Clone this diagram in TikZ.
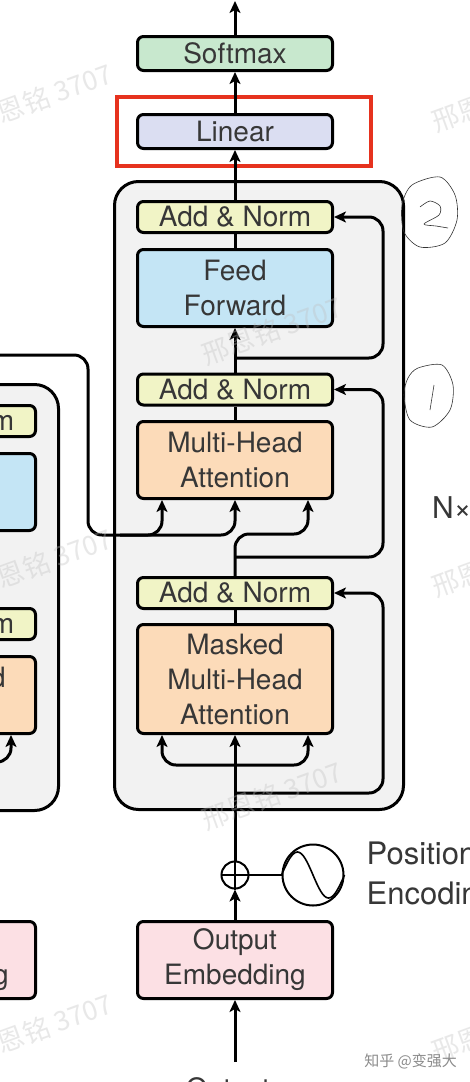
\documentclass[tikz,border=0pt]{standalone}
\usepackage{fontspec}
\setmainfont{TeX Gyre Heros}
\newfontfamily\cjkfont{Noto Sans CJK SC}
\usepackage{xcolor}
\usepackage{tikz}
\usetikzlibrary{positioning, arrows.meta, calc}
\definecolor{softmaxfill}{RGB}{200,232,206}
\definecolor{linearfill}{RGB}{219,222,242}
\definecolor{normfill}{RGB}{241,244,198}
\definecolor{ffnfill}{RGB}{196,229,245}
\definecolor{attnfill}{RGB}{252,219,185}
\definecolor{embedfill}{RGB}{252,224,228}
\definecolor{blockfill}{RGB}{242,242,242}
\definecolor{markred}{RGB}{230,50,30}
\definecolor{labeltext}{RGB}{55,55,55}

\begin{document}
\begin{tikzpicture}[x=1pt, y=-1pt,
        basic/.style={draw=black, line width=3pt, rounded corners=6pt, minimum width=195pt, inner sep=0pt, align=center, text=labeltext, font=\fontsize{28}{35}\selectfont},
        normbox/.style={basic, fill=normfill, minimum height=31pt},
        ffnbox/.style={basic, fill=ffnfill, minimum height=77pt},
        attnbox/.style={basic, fill=attnfill, minimum height=77pt},
        embedbox/.style={basic, fill=embedfill, minimum height=77pt},
        blockbox/.style={draw=black, line width=3pt, rounded corners=24pt, fill=blockfill, inner sep=0pt},
        redframe/.style={draw=markred, line width=3.8pt, inner sep=0pt},
        flow/.style={line width=3pt, -{Stealth[length=12pt, width=11pt, inset=3pt]}},
        wire/.style={line width=3pt},
        resid/.style={flow, rounded corners=14pt},
        hand/.style={line width=0.6pt, black!80},
        sidetext/.style={text=labeltext, font=\fontsize{31}{40}\selectfont, align=left, inner sep=0pt},
        wmtext/.style={text=black!25, opacity=0.35, rotate=20, inner sep=0pt, font=\cjkfont\fontsize{27}{27}\selectfont}
    ]
    \useasboundingbox (0,0) rectangle (470,1082);
    \clip (0,0) rectangle (470,1082);
    \fill[white] (0,0) rectangle (470,1082);

    % stacks
    \node[blockbox, minimum width=297pt, minimum height=426pt] (encblock) at (-90,597.5) {};
    \node[blockbox, minimum width=289pt, minimum height=628pt] (decblock) at (259,495.5) {};
    \node[redframe, minimum width=254pt, minimum height=69pt] (highlight) at (244,131.5) {};

    % encoder side, mostly cut off
    \node[normbox] (encnorm2) at (-62,421) {Add \& Norm};
    \node[ffnbox] (encffn) at (-62,492) {Feed\\Forward};
    \node[normbox] (encnorm1) at (-62,624) {Add \& Norm};
    \node[attnbox] (encattn) at (-62,695) {Multi-Head\\Attention};
    \node[embedbox] (inemb) at (-62,960) {Input\\Embedding};

    % decoder
    \node[basic, fill=softmaxfill, minimum height=34pt] (softmax) at (235,53.5) {Softmax};
    \node[basic, fill=linearfill, minimum height=34pt] (linear) at (235,131.5) {Linear};
    \node[normbox] (norm3) at (235,217) {Add \& Norm};
    \node[ffnbox] (ffn) at (235,288) {Feed\\Forward};
    \node[normbox] (norm2) at (235,389.5) {Add \& Norm};
    \node[attnbox] (crossattn) at (235,460) {Multi-Head\\Attention};
    \node[normbox] (norm1) at (235,593) {Add \& Norm};
    \node[attnbox, minimum height=109pt] (selfattn) at (235,679) {Masked\\Multi-Head\\Attention};
    \node[embedbox] (outemb) at (235,960) {Output\\Embedding};

    \node[draw, circle, line width=2pt, minimum size=27pt, inner sep=0pt] (plus) at (235,875) {};
    \node[draw, circle, line width=2pt, minimum size=61pt, inner sep=0pt] (posenc) at (313,875) {};
    \node[sidetext, right=22pt of posenc, yshift=-2pt] (posenclabel) {Positional\\Encoding};
    \node[sidetext, anchor=base west, font=\fontsize{30}{30}\selectfont] (nlayers) at (432,518) {N×};
    \node[sidetext, anchor=base, font=\fontsize{28}{35}\selectfont] (outlabel) at (235,1098) {Outputs};

    \coordinate (outtop) at (235,1);
    \coordinate (outsrc) at (235,1062);
    \coordinate (split0) at (235,765);
    \coordinate (tap1) at (235,793);
    \coordinate (tap2) at (235,557);
    \coordinate (tap3) at (235,358);
    \coordinate (mid1) at (308,534);
    \coordinate (encout) at (-62,355);
    \coordinate (encbranch) at (120,535);
    \coordinate (encsplit) at (-62,762);

    % main flow
    \draw[flow] (outsrc) -- (outemb.south);
    \draw[flow] (outemb.north) -- (plus.south);
    \draw[line width=2pt] (plus.south) -- (plus.north) (plus.west) -- (plus.east);
    \draw[line width=2.4pt] (plus.east) -- (posenc.west);
    \draw[line width=1.6pt] (posenc.west) sin (297.5,852) cos (313,875) sin (328.5,898) cos (posenc.east);
    \draw[flow] (plus.north) -- (selfattn.south);
    \draw[resid] (split0) -| ([xshift=-73pt]selfattn.south);
    \draw[resid] (split0) -| ([xshift=73pt]selfattn.south);
    \draw[resid] (tap1) -| ([xshift=49pt]norm1.east) -- (norm1.east);
    \draw[wire] (selfattn.north) -- (norm1.south);
    \draw[resid] (norm1.north) |- (mid1) -- ([xshift=73pt]crossattn.south);
    \draw[resid] (encout) -| (88,535) -| (crossattn.south);
    \draw[resid] (encbranch) -| ([xshift=-73pt]crossattn.south);
    \draw[resid] (tap2) -| ([xshift=49pt]norm2.east) -- (norm2.east);
    \draw[wire] (crossattn.north) -- (norm2.south);
    \draw[flow] (norm2.north) -- (ffn.south);
    \draw[resid] (tap3) -| ([xshift=49pt]norm3.east) -- (norm3.east);
    \draw[wire] (ffn.north) -- (norm3.south);
    \draw[flow] (norm3.north) -- (linear.south);
    \draw[flow] (linear.north) -- (softmax.south);
    \draw[flow] (softmax.north) -- (outtop);
    \draw[resid] (encsplit) -| ([xshift=73pt]encattn.south);

    % pen marks
    \draw[hand] plot[smooth cycle] coordinates {(412,185) (440,177) (455,195) (457,220) (445,243) (420,247) (404,232) (402,205)};
    \draw[hand] plot[smooth] coordinates {(420,207) (430,201) (440,206) (439,215) (424,224) (436,226) (448,228)};
    \draw[hand] plot[smooth cycle] coordinates {(418,368) (442,365) (453,385) (450,410) (432,427) (410,420) (404,395) (408,378)};
    \draw[hand] (434,385) -- (430,410);

    % watermarks
    \foreach \row in {0,...,4} {
        \pgfmathsetmacro{\wy}{98+232.5*\row}
        \ifodd\row
            \node[wmtext] at (272,\wy) {邢恩铭 3707};
        \else
            \node[wmtext] at (42,\wy) {邢恩铭 3707};
            \node[wmtext] at (502,\wy) {邢恩铭 3707};
        \fi
    }
    \node[anchor=east, text=black!45, inner sep=0pt, font=\cjkfont\fontsize{15}{15}\selectfont] (credit) at (457,1061) {知乎 @变强大};
\end{tikzpicture}
\end{document}
